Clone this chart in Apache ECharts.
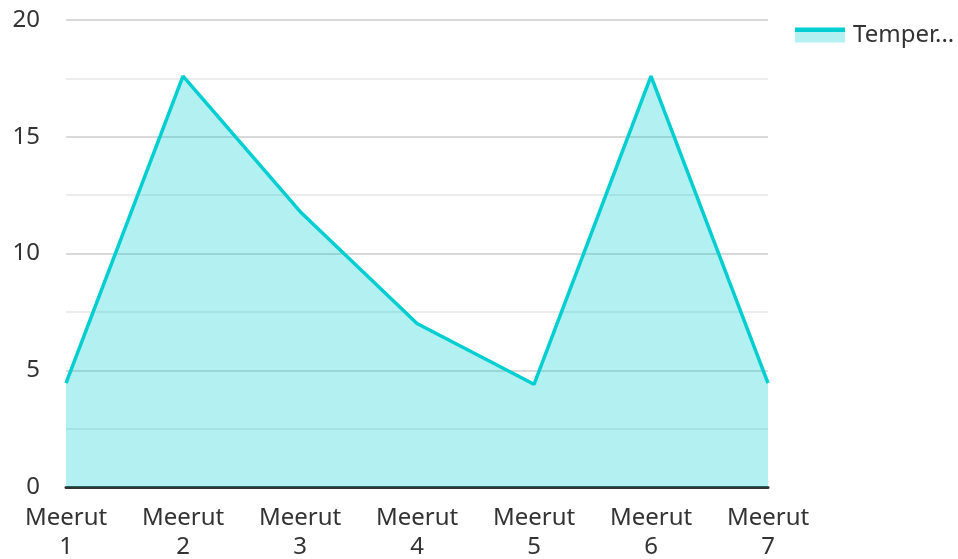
<!DOCTYPE html>
<html>
<head>
<meta charset="utf-8">
<script src="https://cdn.jsdelivr.net/npm/echarts@6/dist/echarts.min.js"></script>
<style>html,body{margin:0;padding:0;background:#fff}#c{width:958px;height:559px}</style>
</head>
<body>
<div id="c"></div>
<script>
const categories = ["Meerut 1","Meerut 2","Meerut 3","Meerut 4","Meerut 5","Meerut 6","Meerut 7"];
const temperature = [4.45, 17.6, 11.8, 7.0, 4.4, 17.6, 4.45];
const seriesName = "Temperature";
const yTicks = {min: 0, max: 20, interval: 5};

const chart = echarts.init(document.getElementById('c'));
const font = '"Noto Sans", "Open Sans", sans-serif';
chart.setOption({
  animation: false,
  grid: {left: 66, right: 190, top: 20, bottom: 72, outerBoundsMode: 'none', containLabel: false},
  legend: {
    left: 790, top: 18, itemWidth: 50, itemHeight: 15, itemGap: 8,
    icon: 'rect',
    itemStyle: {
      borderWidth: 0,
      color: {type: 'linear', x: 0, y: 0, x2: 0, y2: 1, colorStops: [
        {offset: 0, color: '#00ced1'}, {offset: 0.28, color: '#00ced1'},
        {offset: 0.28, color: '#b2f0f1'}, {offset: 1, color: '#b2f0f1'}]}
    },
    lineStyle: {width: 0},
    formatter: name => name.slice(0, 6) + '...',
    textStyle: {fontFamily: font, fontSize: 24, color: '#333', padding: [0, 0, 0, 3]}
  },
  xAxis: {
    type: 'category', data: categories, boundaryGap: false,
    axisLine: {lineStyle: {color: '#333', width: 3}},
    axisTick: {show: false},
    axisLabel: {fontFamily: font, fontSize: 24, color: '#333', lineHeight: 29, margin: 17,
      formatter: v => v.replace(' ', '\n')}
  },
  yAxis: {
    type: 'value', min: yTicks.min, max: yTicks.max, interval: yTicks.interval,
    axisLabel: {fontFamily: font, fontSize: 24, color: '#333', margin: 26},
    splitLine: {lineStyle: {color: '#cccccc', width: 1.5}},
    minorTick: {show: false, splitNumber: 2},
    minorSplitLine: {show: true, lineStyle: {color: '#e6e6e6', width: 1.5}}
  },
  series: [{
    name: seriesName, type: 'line', data: temperature,
    showSymbol: false, symbol: 'none',
    lineStyle: {color: '#00ced1', width: 3.5},
    itemStyle: {color: '#00ced1'},
    areaStyle: {color: '#00ced1', opacity: 0.3}
  }]
});
</script>
</body>
</html>
